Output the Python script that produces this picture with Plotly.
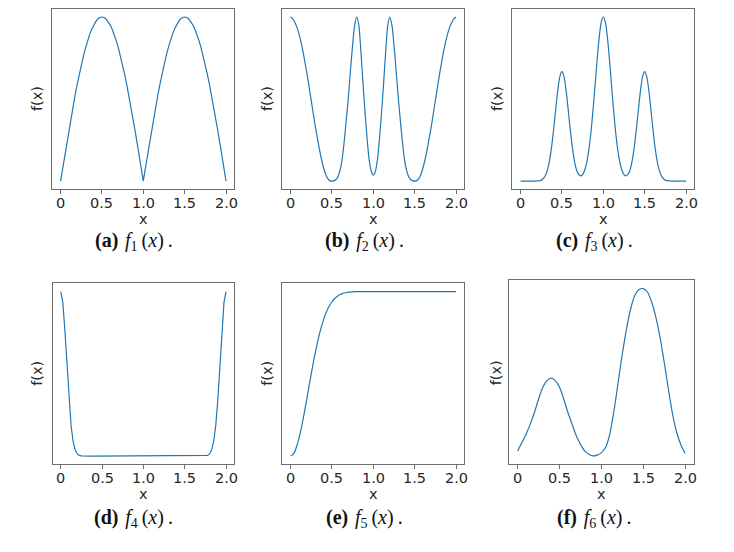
import plotly.graph_objects as go

# ---------------- data ----------------
X = [0.000, 0.025, 0.050, 0.075, 0.100, 0.125, 0.150, 0.175, 0.200, 0.225,
     0.250, 0.275, 0.300, 0.325, 0.350, 0.375, 0.400, 0.425, 0.450, 0.475,
     0.500, 0.525, 0.550, 0.575, 0.600, 0.625, 0.650, 0.675, 0.700, 0.725,
     0.750, 0.775, 0.800, 0.825, 0.850, 0.875, 0.900, 0.925, 0.950, 0.975,
     1.000, 1.025, 1.050, 1.075, 1.100, 1.125, 1.150, 1.175, 1.200, 1.225,
     1.250, 1.275, 1.300, 1.325, 1.350, 1.375, 1.400, 1.425, 1.450, 1.475,
     1.500, 1.525, 1.550, 1.575, 1.600, 1.625, 1.650, 1.675, 1.700, 1.725,
     1.750, 1.775, 1.800, 1.825, 1.850, 1.875, 1.900, 1.925, 1.950, 1.975,
     2.000]

F1 = [0.000, 0.078, 0.156, 0.233, 0.309, 0.383, 0.454, 0.523, 0.588, 0.649,
      0.707, 0.760, 0.809, 0.853, 0.891, 0.924, 0.951, 0.972, 0.988, 0.997,
      1.000, 0.997, 0.988, 0.972, 0.951, 0.924, 0.891, 0.853, 0.809, 0.760,
      0.707, 0.649, 0.588, 0.523, 0.454, 0.383, 0.309, 0.233, 0.156, 0.078,
      0.000, 0.078, 0.156, 0.233, 0.309, 0.383, 0.454, 0.523, 0.588, 0.649,
      0.707, 0.760, 0.809, 0.853, 0.891, 0.924, 0.951, 0.972, 0.988, 0.997,
      1.000, 0.997, 0.988, 0.972, 0.951, 0.924, 0.891, 0.853, 0.809, 0.760,
      0.707, 0.649, 0.588, 0.523, 0.454, 0.383, 0.309, 0.233, 0.156, 0.078,
      0.000]

F2 = [1.00, 0.99, 0.97, 0.94, 0.90, 0.85, 0.79, 0.72, 0.65, 0.57,
      0.49, 0.41, 0.33, 0.26, 0.19, 0.13, 0.08, 0.04, 0.015, 0.003,
      0.000, 0.003, 0.01, 0.03, 0.07, 0.14, 0.25, 0.38, 0.52, 0.68,
      0.83, 0.95, 1.00, 0.95, 0.79, 0.60, 0.42, 0.26, 0.13, 0.06,
      0.036, 0.06, 0.13, 0.26, 0.42, 0.60, 0.79, 0.95, 1.00, 0.95,
      0.83, 0.68, 0.52, 0.38, 0.25, 0.14, 0.07, 0.03, 0.01, 0.003,
      0.000, 0.003, 0.015, 0.04, 0.08, 0.13, 0.19, 0.26, 0.33, 0.41,
      0.49, 0.57, 0.65, 0.72, 0.79, 0.85, 0.90, 0.94, 0.97, 0.99,
      1.00]

F3 = [0.000, 0.000, 0.000, 0.000, 0.000, 0.000, 0.000, 0.000, 0.001, 0.002,
      0.006, 0.016, 0.034, 0.068, 0.125, 0.209, 0.317, 0.439, 0.554, 0.637,
      0.667, 0.637, 0.554, 0.439, 0.317, 0.210, 0.126, 0.071, 0.042, 0.032,
      0.040, 0.066, 0.115, 0.190, 0.295, 0.428, 0.581, 0.737, 0.873, 0.967,
      1.000, 0.967, 0.873, 0.737, 0.581, 0.428, 0.295, 0.190, 0.115, 0.066,
      0.040, 0.032, 0.042, 0.071, 0.126, 0.210, 0.317, 0.439, 0.554, 0.637,
      0.667, 0.637, 0.554, 0.439, 0.317, 0.209, 0.125, 0.068, 0.034, 0.016,
      0.006, 0.002, 0.001, 0.000, 0.000, 0.000, 0.000, 0.000, 0.000, 0.000,
      0.000]

F4 = [1.000, 0.934, 0.762, 0.543, 0.337, 0.183, 0.087, 0.036, 0.013, 0.004,
      0.001, 0.000, 0.000, 0.000, 0.000, 0.000, 0.000, 0.000, 0.000, 0.000,
      0.000, 0.000, 0.000, 0.000, 0.000, 0.000, 0.000, 0.000, 0.000, 0.000,
      0.000, 0.000, 0.000, 0.000, 0.000, 0.000, 0.000, 0.000, 0.000, 0.000,
      0.000, 0.000, 0.000, 0.000, 0.000, 0.000, 0.000, 0.000, 0.000, 0.000,
      0.000, 0.000, 0.000, 0.000, 0.000, 0.000, 0.000, 0.000, 0.000, 0.000,
      0.000, 0.000, 0.000, 0.000, 0.000, 0.000, 0.000, 0.000, 0.000, 0.000,
      0.001, 0.004, 0.013, 0.036, 0.087, 0.183, 0.337, 0.543, 0.762, 0.934,
      1.000]

F5 = [0.000, 0.007, 0.027, 0.061, 0.105, 0.159, 0.221, 0.288, 0.359, 0.430,
      0.500, 0.568, 0.632, 0.691, 0.744, 0.790, 0.831, 0.866, 0.895, 0.918,
      0.938, 0.953, 0.965, 0.975, 0.982, 0.987, 0.991, 0.994, 0.996, 0.997,
      0.998, 0.999, 0.999, 1.000, 1.000, 1.000, 1.000, 1.000, 1.000, 1.000,
      1.000, 1.000, 1.000, 1.000, 1.000, 1.000, 1.000, 1.000, 1.000, 1.000,
      1.000, 1.000, 1.000, 1.000, 1.000, 1.000, 1.000, 1.000, 1.000, 1.000,
      1.000, 1.000, 1.000, 1.000, 1.000, 1.000, 1.000, 1.000, 1.000, 1.000,
      1.000, 1.000, 1.000, 1.000, 1.000, 1.000, 1.000, 1.000, 1.000, 1.000,
      1.000]

X6 = [0.00, 0.05, 0.10, 0.15, 0.20, 0.25, 0.30, 0.35, 0.40, 0.45,
      0.50, 0.55, 0.60, 0.65, 0.70, 0.75, 0.80, 0.85, 0.90, 0.95,
      1.00, 1.05, 1.10, 1.15, 1.20, 1.25, 1.30, 1.35, 1.40, 1.45,
      1.50, 1.55, 1.60, 1.65, 1.70, 1.75, 1.80, 1.85, 1.90, 1.95,
      2.00]

F6 = [0.030, 0.080, 0.130, 0.190, 0.260, 0.340, 0.410, 0.450, 0.465, 0.450,
      0.410, 0.340, 0.260, 0.190, 0.120, 0.070, 0.030, 0.010, 0.000, 0.005,
      0.020, 0.050, 0.130, 0.270, 0.440, 0.610, 0.760, 0.880, 0.960, 0.995,
      1.000, 0.980, 0.920, 0.830, 0.710, 0.560, 0.400, 0.250, 0.140, 0.065,
      0.015]

TICK_VALS = [0, 0.5, 1.0, 1.5, 2.0]
TICK_TEXT = ["0", "0.5", "1.0", "1.5", "2.0"]
PANEL_LETTERS = ["a", "b", "c", "d", "e", "f"]
FUNC_INDEX = ["1", "2", "3", "4", "5", "6"]
X_LABEL = "x"
Y_LABEL = "f(x)"

# ---------------- layout geometry (page pixels) ----------------
PAGE_W, PAGE_H = 734, 552
BODY_MARGIN = 8                      # default browser body margin
W, H = PAGE_W - 2 * BODY_MARGIN, PAGE_H - 2 * BODY_MARGIN


def clamp(v):
    return max(0.0, min(1.0, v))


def px(xp):
    return (xp - BODY_MARGIN) / W


def py(yp):
    return 1 - (yp - BODY_MARGIN) / H


# (left, right, top, bottom) of each axes box, in page pixels
BOXES = [
    (52.3, 234.3, 8.8, 189.3),
    (282.3, 464.3, 8.8, 189.3),
    (512.3, 694.3, 8.8, 189.3),
    (52.5, 234.3, 283.3, 464.3),
    (282.3, 464.3, 283.3, 464.3),
    (509.3, 693.5, 280.3, 464.3),
]
YLABEL_X = [37, 267, 497, 37, 267, 496]
CAPTION_X = [134, 364, 594, 134, 364, 594]
TICKLABEL_DY = 13.7
XLABEL_DY = 30
CAPTION_DY = [52.5, 54]

series = [(X, F1), (X, F2), (X, F3), (X, F4), (X, F5), (X6, F6)]
SHAPES = ["linear", "spline", "spline", "linear", "spline", "spline"]
for xs, ys in series:
    assert len(xs) == len(ys)

LINE_COLOR = "#1f77b4"
SPINE = "#6e6e6e"
TEXT = "#262626"

fig = go.Figure()
layout = {}
annotations = []
for i, ((xs, ys), (l, r, t, b)) in enumerate(zip(series, BOXES)):
    suf = "" if i == 0 else str(i + 1)
    fig.add_trace(go.Scatter(
        x=xs, y=ys, mode="lines",
        line=dict(color=LINE_COLOR, width=1.2, shape=SHAPES[i], smoothing=0.8),
        xaxis="x" + suf, yaxis="y" + suf, showlegend=False, hoverinfo="skip"))
    layout["xaxis" + suf] = dict(
        domain=[clamp(px(l)), clamp(px(r))], anchor="y" + suf, range=[-0.1, 2.1],
        tickmode="array", tickvals=TICK_VALS, showticklabels=False,
        ticks="outside", ticklen=3.5, tickwidth=1, tickcolor=SPINE,
        showline=True, mirror=True, linecolor=SPINE, linewidth=1,
        showgrid=False, zeroline=False)
    layout["yaxis" + suf] = dict(
        domain=[clamp(py(b)), clamp(py(t))], anchor="x" + suf, range=[-0.05, 1.05],
        showticklabels=False, ticks="", showline=True, mirror=True,
        linecolor=SPINE, linewidth=1, showgrid=False, zeroline=False)
    row = i // 3
    # tick labels placed on the data scale of each x axis
    for tv, tt in zip(TICK_VALS, TICK_TEXT):
        annotations.append(dict(
            x=tv, xref="x" + suf, y=py(b + TICKLABEL_DY), yref="paper",
            text=tt, showarrow=False, xanchor="center", yanchor="middle",
            font=dict(family="DejaVu Sans", size=14.5, color=TEXT)))
    annotations.append(dict(
        x=px((l + r) / 2), y=py(b + XLABEL_DY), xref="paper", yref="paper",
        text=X_LABEL, showarrow=False, xanchor="center", yanchor="middle",
        font=dict(family="DejaVu Sans", size=14.5, color=TEXT)))
    annotations.append(dict(
        x=px(YLABEL_X[i]), y=py((t + b) / 2), xref="paper", yref="paper",
        text=Y_LABEL, showarrow=False, textangle=-90,
        xanchor="center", yanchor="middle",
        font=dict(family="DejaVu Sans", size=14.5, color=TEXT)))
    annotations.append(dict(
        x=px(CAPTION_X[i]), y=py(b + CAPTION_DY[row]), xref="paper", yref="paper",
        text="<b>(" + PANEL_LETTERS[i] + ")</b>&#8196;<i>f</i><sub>" + FUNC_INDEX[i]
             + "</sub>&#8201;(<i>x</i>)&#8201;.",
        showarrow=False, xanchor="center", yanchor="middle",
        font=dict(family="Liberation Serif", size=20, color="#111111")))

fig.update_layout(
    width=W, height=H, margin=dict(l=0, r=0, t=0, b=0),
    paper_bgcolor="white", plot_bgcolor="white",
    annotations=annotations, **layout)

fig.write_html("out.html")
